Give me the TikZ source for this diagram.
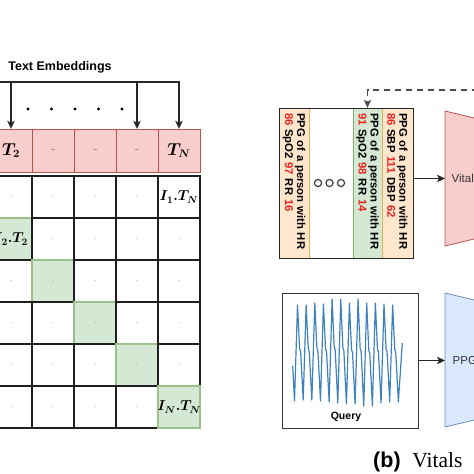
\documentclass[tikz,border=0pt]{standalone}
\usepackage{fontspec}
\setmainfont{Liberation Serif}
\setsansfont{Liberation Sans}
\usepackage{amsmath}
\usetikzlibrary{positioning,arrows.meta,calc}
\definecolor{hdrpink}{HTML}{F8CECC}
\definecolor{hdrred}{HTML}{B85450}
\definecolor{diaggreen}{HTML}{D5E8D4}
\definecolor{diagedge}{HTML}{9BC28A}
\definecolor{gridline}{HTML}{1F1F1F}
\definecolor{striporange}{HTML}{FFE6CC}
\definecolor{striporangeedge}{HTML}{D6B656}
\definecolor{stripgreen}{HTML}{D5E8D4}
\definecolor{stripgreenedge}{HTML}{82B366}
\definecolor{encblue}{HTML}{DAE8FC}
\definecolor{encbedge}{HTML}{6C8EBF}
\definecolor{wavecol}{HTML}{3F83BE}
\definecolor{numred}{HTML}{E8231E}

\begin{document}
\begin{tikzpicture}[x=1pt, y=-1pt,
    hdr/.style={draw=hdrred, fill=hdrpink, minimum width=42pt, minimum height=43pt, inner sep=0pt, font=\fontsize{16}{16}\selectfont},
    cell/.style={draw=gridline, line width=1.1pt, fill=white, minimum size=42pt, inner sep=0pt},
    diag/.style={draw=diagedge, fill=diaggreen},
    dotval/.style={text=gray, font=\fontsize{8}{8}\selectfont, inner sep=0pt},
    val/.style={font=\fontsize{14}{14}\selectfont, inner sep=0pt},
    strip/.style={draw=#1edge, fill=#1, rotate=-90, minimum width=150pt, text width=140pt, inner xsep=5pt, inner ysep=0pt, align=left, font=\fontsize{11.3}{12}\selectfont\sffamily\bfseries},
    arrow/.style={-{Stealth[length=8pt, width=7.5pt, inset=2pt]}, line width=1.1pt, color=black!85},
    enc/.style={font=\fontsize{11.5}{12}\selectfont\sffamily, text=black!80, anchor=west, inner sep=0pt},
]
\useasboundingbox (0,0) rectangle (474,474);
\clip (0,0) rectangle (474,474);

% Text embeddings
\node[font=\fontsize{12.5}{13}\selectfont\sffamily\bfseries] (txtemb) at (60,67) {Text Embeddings};
\foreach \c/\t in {0/{$\boldsymbol{T_2}$}, 1/{\fontsize{8}{8}\selectfont ..}, 2/{\fontsize{8}{8}\selectfont ..}, 3/{\fontsize{8}{8}\selectfont ..}, 4/{$\boldsymbol{T_N}$}}
    \node[hdr] (h\c) at ({11+42*\c},150.5) {\t};

\coordinate (bus) at (-40,82);
\draw[arrow] (bus) -| (h4.north);
\draw[arrow] (bus -| h0.north) -- (h0.north);
\draw[arrow] (bus -| h3.north) -- (h3.north);
\foreach \x in {28,51.5,75,98.5,122}
    \fill (\x,109) circle (1.6);

% Similarity matrix
\foreach \r in {0,...,5}
    \foreach \c in {0,...,4} {
        \pgfmathtruncatemacro{\d}{\r-1}
        \ifnum\c=\d\relax
            \node[cell, diag] (m\r\c) at ({11+42*\c},{197+42*\r}) {};
        \else
            \node[cell] (m\r\c) at ({11+42*\c},{197+42*\r}) {};
        \fi
    }
\foreach \r in {0,...,5}
    \foreach \c in {0,...,4} {
        \pgfmathtruncatemacro{\k}{10*\r+\c}
        \ifnum\k=4 \else\ifnum\k=10 \else\ifnum\k=54 \else
            \node[dotval] at (m\r\c) {.};
        \fi\fi\fi
    }
\node[val] at (m04) {$\boldsymbol{I_1.T_N}$};
\node[val] at (m10) {$\boldsymbol{I_2.T_2}$};
\node[val] at (m54) {$\boldsymbol{I_N.T_N}$};

% Vitals text strips
\node[strip=striporange, minimum height=30pt] (s1) at (294,183)
    {PPG of a person with HR\\\textcolor{numred}{86} SpO2 \textcolor{numred}{97} RR \textcolor{numred}{16}};
\node[strip=stripgreen, minimum height=29pt] (s2) at (367.5,183)
    {PPG of a person with HR\\\textcolor{numred}{91} SpO2 \textcolor{numred}{98} RR \textcolor{numred}{14}};
\node[strip=striporange, minimum height=31pt] (s3) at (397.5,183)
    {PPG of a person with HR\\\textcolor{numred}{86} SBP \textcolor{numred}{111} DBP \textcolor{numred}{62}};
\foreach \x in {318,329.5,341}
    \draw[black!75, line width=1.2pt] (\x,183) circle (3.6);
\node[draw=black!85, line width=1pt, minimum width=134pt, minimum height=150pt] (vbox) at (346,183) {};

\coordinate (fb) at (500,90);
\draw[arrow, dashed, dash pattern=on 6pt off 5pt, color=black!70] (fb) -| (s2.west);

% Vitals encoder
\fill[hdrpink, draw=hdrred, line width=0.8pt] (445,111) -- (520,129) -- (520,228) -- (445,246) -- cycle;
\coordinate (venc) at (445,178.5);
\node[enc] (vlbl) at (451.5,178.5) {Vitals Encoder};
\draw[arrow] (vbox.east |- venc) -- (venc);

% Query
\node[draw=black!80, line width=1pt, minimum width=136pt, minimum height=135pt] (query) at (350,360.5) {};
\node[font=\fontsize{10.5}{11}\selectfont\sffamily\bfseries] (qlbl) at (346,417) {Query};
\draw[wavecol, line width=1.2pt, line join=round] (292.7,366) -- (294.5,401)
    \foreach \i/\yt/\yb in {0/305/400, 1/305/400, 2/303/401, 3/304/402, 4/299/403, 5/299/404,
                            6/303/404, 7/299/406, 8/303/406, 9/303/403, 10/304/402, 11/305/402} {
        -- ({297.5+8.65*\i},\yt) -- ({299.6+8.65*\i},{(\yt+\yb)/2-4}) -- ({300.6+8.65*\i},{(\yt+\yb)/2-1})
        -- ({303.2+8.65*\i},\yb)
    } -- (402.3,343);

% PPG encoder
\fill[encblue, draw=encbedge, line width=0.8pt] (445,293) -- (520,311) -- (520,409) -- (445,427) -- cycle;
\coordinate (penc) at (445,360.5);
\node[enc] (plbl) at (452.5,360.5) {PPG Encoder};
\draw[arrow] (query.east) -- (penc);

% Caption
\node[anchor=base west, inner sep=0pt, font=\fontsize{21.5}{22}\selectfont] (cap) at (373,467)
    {{\sffamily\bfseries (b)}\hspace{0.3em} Vitals};
\end{tikzpicture}
\end{document}
